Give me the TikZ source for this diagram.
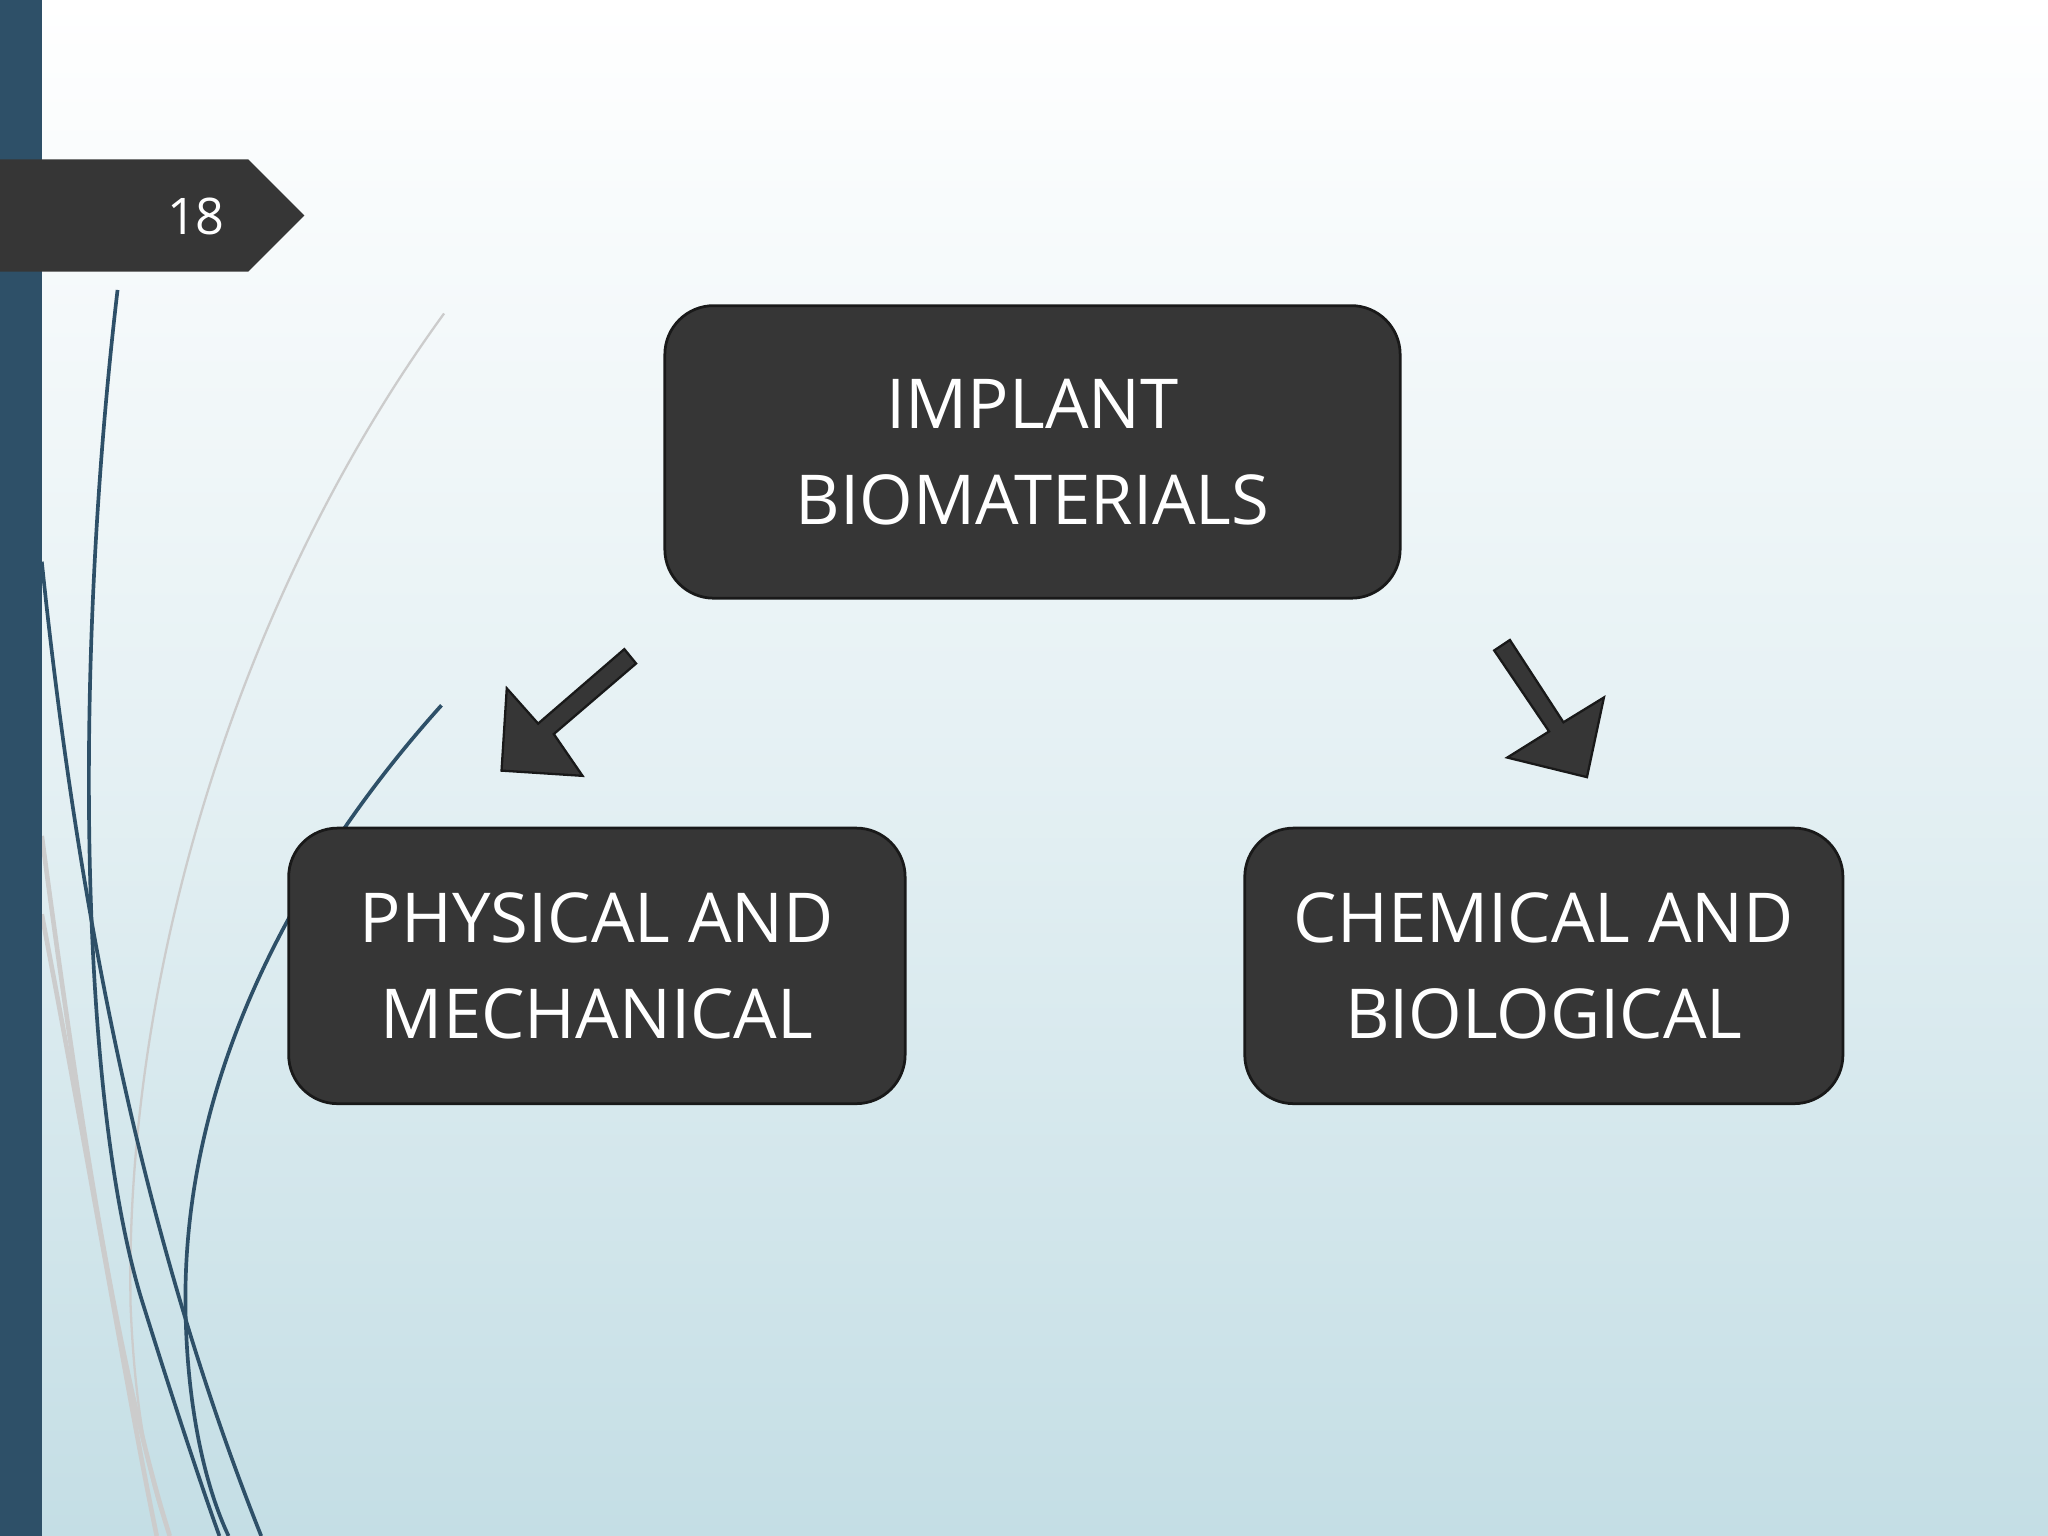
\documentclass[tikz,border=0pt]{standalone}
\usepackage{fontspec}
\setmainfont{Open Sans}
\begin{document}
\begin{tikzpicture}[x=0.02cm,y=-0.02cm,
  box/.style={draw=black!90,line width=1.2pt,fill=boxc,rounded corners=0.75cm,text=white,align=center,font=\fontsize{30}{42}\selectfont,inner sep=0pt},
  arr/.style={fill=boxc,draw=black!90,line width=1pt,line join=miter},
  dk/.style={draw=barc,line width=1.6pt},
  lt/.style={draw=gray!40,line width=1.4pt}]
\definecolor{boxc}{HTML}{363636}
\definecolor{barc}{HTML}{2E5068}
\definecolor{topc}{HTML}{FFFFFF}
\definecolor{botc}{HTML}{C4DEE5}
\shade[top color=topc,bottom color=botc,middle color=botc!45!topc] (0,0) rectangle (1568,1176);
\useasboundingbox (0,0) rectangle (1568,1176);
% decorative curves
\draw[lt,line width=1pt] (340,240) .. controls (180,460) and (95,750) .. (100,1000) .. controls (104,1100) and (120,1150) .. (130,1176);
\draw[lt,line width=2pt] (32,640) .. controls (60,850) and (90,1050) .. (130,1176);
\draw[lt,line width=2pt] (32,700) .. controls (70,900) and (100,1080) .. (120,1176);
\draw[dk] (90,222) .. controls (55,520) and (62,850) .. (110,1000) .. controls (135,1080) and (155,1140) .. (168,1176);
\draw[dk] (32,430) .. controls (60,700) and (110,950) .. (200,1176);
\draw[dk] (338,540) .. controls (230,660) and (140,820) .. (142,1000) .. controls (143,1080) and (158,1140) .. (175,1176);
\fill[barc] (0,0) rectangle (32,1176);
% tag
\fill[boxc] (0,122) -- (190,122) -- (233,165) -- (190,208) -- (0,208) -- cycle;
\node[text=white,font=\fontsize{22}{24}\selectfont] (num) at (150,166) {18};
% boxes
\node[box,minimum width=563*0.02cm,minimum height=224*0.02cm] (top) at (790.5,346) {IMPLANT\\BIOMATERIALS};
\node[box,minimum width=472*0.02cm,minimum height=211*0.02cm] (left) at (457,739.5) {PHYSICAL AND\\MECHANICAL};
\node[box,minimum width=458*0.02cm,minimum height=211*0.02cm] (right) at (1182,739.5) {CHEMICAL AND\\BIOLOGICAL};
% block arrows
\draw[arr] (478,497) -- (487,508) -- (424,562) -- (446,594) -- (384,590) -- (388,527) -- (412,554) -- cycle;
\draw[arr] (1144,498) -- (1156,490) -- (1197,553) -- (1228,534) -- (1215,595) -- (1154,580) -- (1186,560) -- cycle;
\end{tikzpicture}
\end{document}
